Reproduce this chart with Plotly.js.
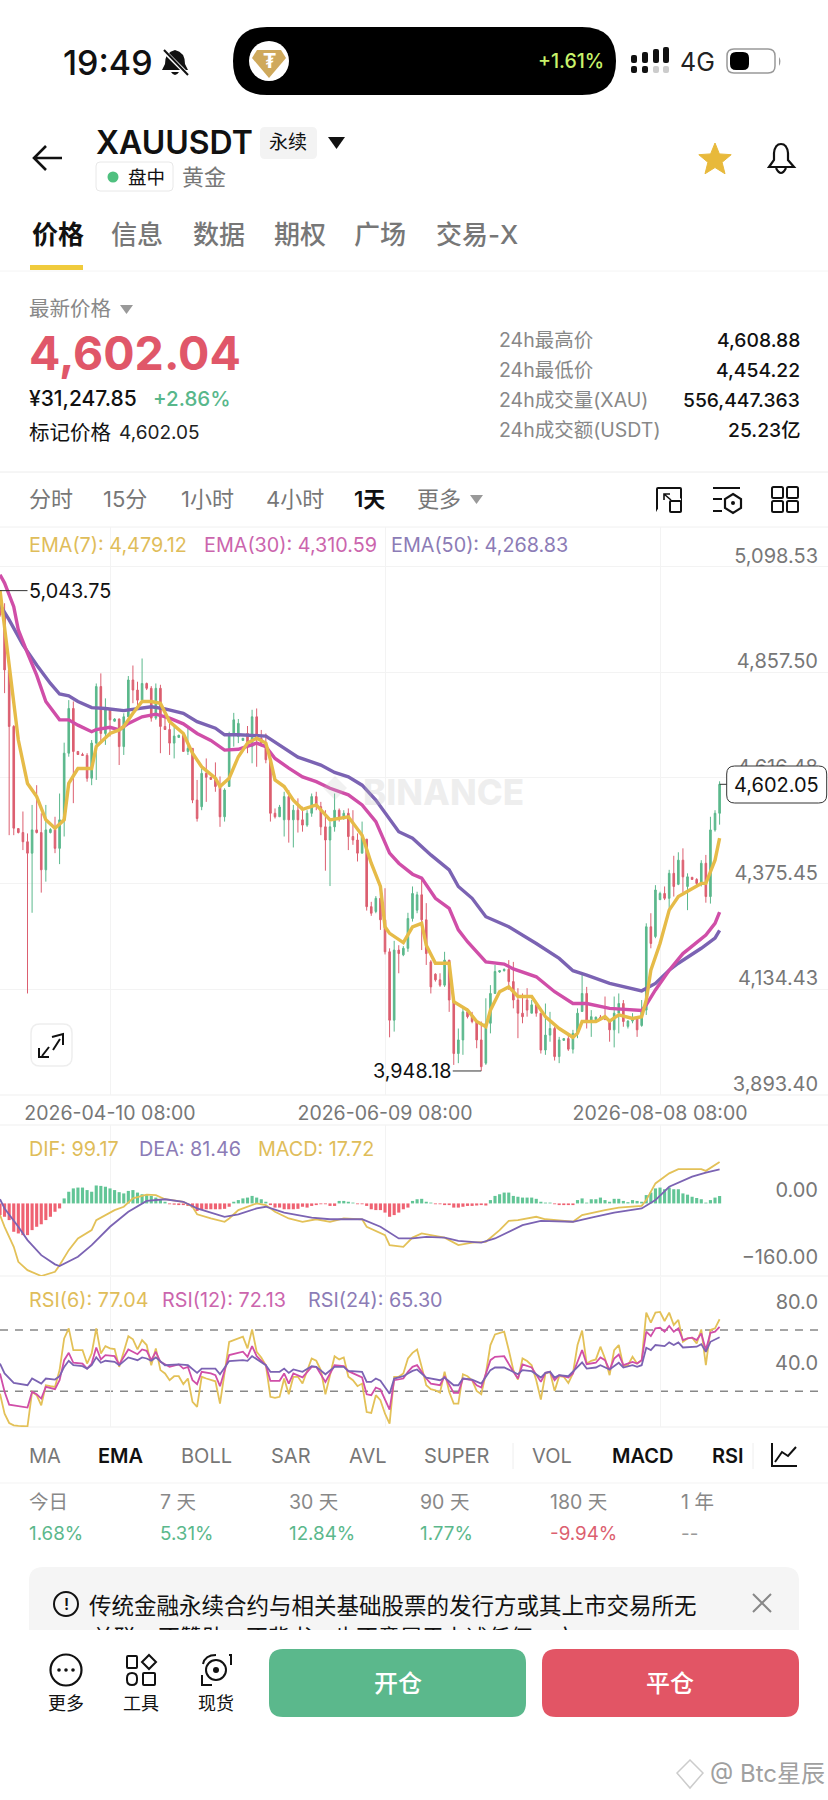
<!DOCTYPE html>
<html><head><meta charset="utf-8">
<script src="https://cdn.plot.ly/plotly-3.0.1.min.js"></script>
<style>html,body{margin:0;padding:0;background:#fff}#chart{position:absolute;left:0;top:0;width:828px;height:1800px}
#clip{position:absolute;left:92px;top:1624px;width:620px;height:6px;overflow:hidden;font:22px 'Noto Sans CJK SC';color:#111;line-height:22px}
#clip span{position:relative;top:0;white-space:nowrap}</style>
</head><body><div id="chart"></div><div id="clip"><span>关联，不赞助，不背书，也不意属于上述任何一方</span></div>
<script>
// day index 0 = 2026-04-10; first visible candle is -24, last 133
const firstDay=-24;
const high=[5043.75,5015,4863,4737,4502,4540,4490,4555,4600,4536,4555,4502,4528,4581,4697,4794,4791,4677,4674,4673,4703,4832,4855,4798,
4772,4753,4752,4764,4849,4873,4836,4889,4834,4826,4832,4829,4772,4749,4737,4715,4715,4730,4684,4612,
4638,4661,4618,4652,4620,4593,4722,4765,4751,4707,4735,4772,4775,4726,4718,4658,4547,4555,4585,4589,
4555,4570,4551,4543,4581,4585,4562,4543,4517,4581,4547,4543,4547,4543,4490,4517,4477,4334,4347,4353,
4365,4228,4245,4235,4233,4309,4369,4357,4384,4331,4201,4171,4171,4220,4201,4114,4045,4095,4091,4083,
4064,4061,4114,4144,4190,4178,4182,4201,4197,4137,4125,4137,4110,4102,4080,4102,4083,4049,4026,4023,
4034,4042,4091,4167,4140,4087,4072,4076,4118,4064,4118,4125,4110,4064,4080,4068,4110,4285,4308,4372,
4357,4369,4407,4439,4447,4456,4399,4390,4388,4429,4441,4528,4543,4608.88];
const low=[4984,4810,4486,4486,4490,4452,4125,4309,4490,4355,4380,4490,4445,4420,4483,4665,4559,4669,4667,4608,4600,4612,4696,4692,
4711,4745,4646,4669,4760,4787,4783,4794,4817,4745,4749,4673,4726,4669,4661,4709,4677,4669,4559,4517,
4543,4562,4613,4585,4505,4517,4597,4688,4696,4702,4673,4650,4642,4688,4650,4517,4524,4528,4483,4469,
4458,4492,4494,4505,4528,4543,4486,4405,4370,4494,4517,4521,4452,4464,4426,4445,4314,4302,4308,4270,
4214,4025,4038,4171,4210,4220,4289,4308,4224,4190,4125,4152,4140,4140,4083,3962,3966,3985,4068,4057,
4000,3948.18,3962,4034,4125,4172,4175,4133,4091,4023,4057,4072,4080,4072,3988,3985,4015,3972,3966,4017,
3994,3988,4023,4083,4045,4026,4064,4064,4064,4015,4002,4034,4049,4045,4057,4026,4049,4076,4228,4251,
4338,4338,4315,4346,4372,4355,4315,4384,4372,4369,4332,4330,4494,4510];
const open=[5038,4988,4863,4734,4501,4492,4471,4445,4498,4492,4407,4492,4499,4456,4521,4673,4775,4677,4670,4668,4616,4696,4825,4718,
4772,4746,4751,4688,4756,4840,4817,4794,4832,4821,4753,4821,4734,4727,4696,4709,4714,4677,4684,4566,
4551,4627,4618,4613,4597,4528,4597,4715,4711,4702,4718,4688,4756,4707,4696,4658,4536,4528,4521,4574,
4521,4543,4521,4509,4536,4574,4551,4505,4475,4505,4543,4524,4536,4483,4475,4445,4477,4323,4312,4342,
4293,4220,4064,4224,4213,4228,4296,4315,4350,4293,4197,4169,4156,4144,4201,4110,3988,4019,4083,4072,
4061,4019,3966,4057,4125,4174,4177,4180,4152,4110,4080,4110,4080,4099,4080,3996,4030,4045,3981,4018,
4022,3998,4034,4084,4125,4064,4065,4071,4072,4064,4042,4080,4102,4050,4062,4067,4052,4087,4277,4255,
4339,4353,4342,4399,4374,4429,4369,4390,4385,4376,4422,4346,4498,4536];
const close=[4988,4863,4734,4502,4492,4471,4445,4498,4492,4407,4498,4499,4456,4521,4673,4775,4677,4670,4668,4616,4696,4825,4718,4772,
4749,4751,4688,4756,4840,4817,4794,4832,4821,4753,4821,4734,4727,4696,4712,4714,4677,4684,4566,4524,
4627,4618,4613,4597,4528,4589,4715,4749,4741,4707,4688,4756,4707,4696,4658,4536,4528,4550,4574,4521,
4543,4521,4509,4536,4574,4551,4505,4475,4505,4543,4524,4536,4483,4475,4445,4483,4323,4308,4342,4293,
4220,4064,4224,4216,4228,4296,4353,4350,4293,4216,4140,4156,4144,4201,4110,3988,4019,4083,4072,4061,
4019,3958,4057,4125,4175,4177,4180,4152,4110,4080,4072,4087,4099,4080,3996,4030,4045,3981,4019,4022,
3998,4034,4080,4125,4064,4072,4071,4066,4066,4042,4080,4102,4061,4062,4068,4042,4087,4277,4239,4361,
4353,4342,4399,4369,4429,4391,4391,4385,4376,4422,4346,4498,4536,4602.05];

const ema7Day=[-24,-22,-20,-18,-16,-14,-12,-10,-9,-7,-4,-3,0,2,3,5,7,9,11,13,16,18,20,23,24,26,28,30,32,34,35,36,38,40,42,45,46,48,52,55,57,59,60,61,64,66,68,69,71,74,75,78,80,82,83,85,87,89,92,93,95,98,101,102,103,106,108,109,111,114,116,117,118,120,122,124,127,129,130,132,133];
const ema7=[5045,4870,4703,4604,4574,4521,4502,4521,4604,4638,4638,4688,4718,4726,4734,4764,4791,4791,4787,4745,4718,4673,4642,4616,4597,4616,4665,4696,4707,4696,4658,4612,4597,4566,4545,4555,4543,4521,4528,4486,4422,4369,4277,4262,4241,4277,4285,4235,4194,4194,4106,4087,4061,4049,4087,4129,4140,4118,4118,4102,4072,4045,4025,4034,4061,4061,4072,4062,4076,4068,4072,4110,4178,4239,4315,4346,4365,4376,4376,4429,4479.12];
const ema30Day=[-24,-23,-21,-20,-18,-16,-14,-11,-9,-7,-4,-3,0,2,4,7,10,13,16,19,22,25,28,30,32,34,36,39,42,45,48,52,55,58,61,63,66,68,71,74,76,78,82,86,88,93,97,101,104,109,116,117,119,122,125,130,132,133];
const ema30=[5080,5061,5007,4954,4901,4851,4791,4749,4749,4737,4722,4727,4732,4726,4741,4756,4762,4753,4740,4718,4702,4680,4682,4689,4696,4688,4661,4639,4619,4608,4593,4578,4555,4517,4445,4422,4397,4388,4342,4319,4270,4243,4197,4192,4181,4163,4129,4102,4102,4091,4086,4099,4133,4178,4216,4258,4285,4310.59];
const ema50Day=[-24,-22,-19,-16,-13,-11,-9,-7,-4,-1,3,6,9,12,16,19,23,25,28,34,37,41,46,49,52,55,58,61,63,66,70,74,76,79,82,87,90,93,98,101,104,109,116,119,122,124,129,132,133];
const ema50=[5011,4977,4920,4874,4832,4808,4804,4791,4777,4775,4770,4775,4779,4774,4764,4745,4730,4715,4715,4712,4692,4664,4646,4629,4619,4600,4566,4524,4494,4479,4441,4407,4369,4342,4300,4277,4258,4239,4205,4177,4167,4148,4131,4148,4178,4194,4228,4251,4268.83];

const macdHist=[-28,-32,-40,-68,-72,-76,-76,-64,-56,-50,-40,-32,-20,-12,12,28,36,38,38,32,28,43,42,40,
36,32,27,24,30,32,26,22,20,18,14,10,4,-2,-3,-4,-4,-6,-10,-18,-16,-14,-14,-14,-14,-13,-8,4,8,12,14,18,14,10,4,-4,-10,-10,-14,-14,-14,-13,-8,-10,-6,-4,-2,-2,-6,-6,6,6,4,2,-2,-2,-6,-14,-16,-16,-22,-32,-28,-22,-14,-10,6,
10,11,4,2,-2,-2,-4,-4,-10,-10,-8,-6,-6,-5,-4,-5,8,18,22,26,26,18,16,14,14,14,11,4,2,2,-2,-4,-4,-4,-4,8,12,2,10,10,14,8,4,11,11,6,3,8,6,4,20,26,36,38,34,38,34,34,24,21,16,13,10,2,8,14,17.72];
const difDay=[-24,-23,-21,-20,-18,-15,-12,-11,-9,-7,-4,-3,1,3,5,8,10,12,16,18,19,22,25,26,28,32,34,36,39,42,45,48,51,55,56,60,61,64,66,68,70,73,76,79,82,85,87,89,93,95,101,103,108,111,116,117,119,122,124,129,130,133];
const dif=[-28,-56,-104,-140,-160,-174,-164,-148,-112,-84,-64,-40,-16,-8,12,21,20,10,4,-8,-26,-36,-44,-36,-16,0,-4,-20,-36,-44,-38,-44,-36,-38,-56,-76,-100,-104,-82,-72,-76,-82,-100,-94,-92,-64,-42,-40,-32,-38,-44,-28,-16,-10,-6,8,48,72,82,82,78,99.17];
const deaDay=[-24,-23,-20,-18,-15,-12,-11,-7,-4,0,4,8,12,16,19,23,25,28,32,34,38,44,48,55,59,63,66,69,73,76,81,84,87,90,94,101,105,110,116,119,122,127,130,133];
const dea=[10,-12,-56,-88,-124,-146,-150,-128,-100,-56,-20,6,10,4,-12,-26,-32,-26,-12,-8,-22,-34,-38,-38,-56,-84,-84,-80,-82,-90,-94,-84,-68,-52,-42,-44,-34,-22,-12,8,40,64,74,81.46];

const rsi6=[28.4,15.3,9.2,7.7,7.3,7.3,7,29.6,27.4,20.8,33.9,33.3,32.8,43.8,64.5,71.1,56.9,56.9,56.9,48.1,54.7,71.1,54.7,59.5,
58,57.5,45.9,55.8,66,63.9,57.3,63.4,60.2,47,58,43.8,41.6,37.2,39.8,39.8,34.6,38.3,23,19.7,
39.4,38.3,37.2,36.5,21.9,43.8,62.3,63.4,64.5,65.6,58,70.4,55.8,52.1,47,26.3,25.6,26.3,38.3,28,
39.4,39.4,35,43.8,51.4,49.9,43.8,28,41.6,52.9,50.8,52.1,39.4,37.2,33.3,35,16.4,15.8,27.4,24.1,
15.3,8.8,39.4,39.4,41.6,51.4,55.1,57.3,45.9,33.9,31.3,30.6,29.1,42.7,29.6,21.9,21.9,41.1,39.8,37.2,
30.2,28,41.6,60.2,67.1,67.8,68.9,56.9,43.8,37.6,51.4,49.7,47,37.2,24.5,41.6,42.7,30.2,39.8,39.4,
35.4,41.6,60.2,69.6,48.1,49.9,50.8,59.1,51.4,40.5,56.9,60.2,46.4,47,52.5,48.1,50.3,81.4,74.8,81.4,
81.8,75.9,81.4,73.3,76.6,62.3,64.5,65,61.2,70.4,47,70,71.1,77.04];
const rsi12Day=[-24,-23,-22,-21,-18,-17,-16,-15,-14,-12,-11,-10,-9,-8,-6,-5,-4,-3,-2,-1,1,2,4,6,7,8,9,10,11,13,15,16,17,18,19,20,22,23,24,26,29,30,31,32,34,35,37,38,39,40,42,44,45,47,49,51,52,55,56,57,58,59,61,62,64,65,66,67,69,70,72,73,75,76,77,79,80,81,83,84,86,88,89,90,92,94,95,96,97,98,100,101,103,104,106,107,108,109,110,111,112,114,115,116,117,118,119,120,121,122,123,124,125,126,127,128,129,130,131,132,133];
const rsi12=[41.6,29.6,21.2,20.8,19.3,29.6,28,25.2,32.8,31.3,37.2,50.3,55.1,48.6,48.1,44.8,48.1,58.6,50.8,53.6,52.9,47.5,57.3,54.2,57.3,56.4,50.3,55.8,49.2,45.9,47.5,44.8,45.9,37.2,34.6,42.7,41.6,40.5,33.3,53.6,55.8,52.5,59.5,52.9,47,36.8,36.8,41.6,35,41.6,39,45.9,45.9,36.1,47,46.4,43.1,39,28,27.4,32.4,31.1,18,37.2,38.3,42.7,45.9,47,38.3,35,33.9,39.8,28.9,28.9,38.3,37.2,33.9,32.4,50.3,52.5,52.9,42.7,38.3,47.5,45.5,36.1,42,42.7,37.2,40.5,39,41.6,56.9,47.7,48.6,52.1,50.3,43.8,51.4,54,47,49.2,48.1,50.3,68.9,66,71.1,71.5,68.9,72.6,68.9,71.1,63.4,64.5,65,63.4,67.8,56.9,68.2,68.9,72.13];
const rsi24Day=[-24,-23,-21,-18,-17,-15,-14,-12,-11,-10,-9,-8,-6,-5,-4,-3,-2,-1,1,2,4,6,7,8,9,10,12,15,17,19,20,23,24,26,29,30,31,32,34,35,37,38,39,40,42,44,45,47,49,51,52,55,56,57,58,59,61,62,64,65,66,67,69,72,73,75,76,77,79,81,83,84,86,89,90,92,94,95,96,97,98,100,101,103,104,106,107,109,111,112,114,115,116,117,118,119,121,122,123,124,125,128,129,130,131,133];
const rsi24=[48.1,41.6,35.4,33.9,38.3,35,38.3,37.6,39.8,45.9,49.9,47,46.4,44.8,47,52.1,48.6,49.9,49.2,47,52.1,50.3,52.1,51.4,49.9,52.1,47,47.5,47,42,44.8,44.8,41.1,49.7,50.3,49.9,52.9,50.8,47,42.7,42.7,44.8,42,44.2,42.7,46.4,45.9,41.1,45.9,45.9,43.3,42.7,36.1,36.1,38.3,36.8,28.4,38.3,39.8,41.6,43.3,44.2,38.9,37.2,38.9,33.9,33.9,38.3,37.6,35,43.8,45.5,45.5,41.1,43.8,43.1,38.9,42,42.7,38.9,40.5,39.8,42.7,48.8,44.8,45.5,47,44.2,48.6,45.5,47,45.9,47,58.4,56.9,60.2,59.5,61.9,60.2,61.9,58.6,59.1,60.8,55.8,62.3,65.3];

const priceTicks=[3893.40,4134.43,4375.45,4616.48,4857.50,5098.53];
const dateTickDays=[0,60,120];
const dateTickLabels=['2026-04-10 08:00','2026-06-09 08:00','2026-08-08 08:00'];

const UP='#5bb88c',DOWN='#dc5f70',YEL='#e6bb48',PNK='#d04ea8',PUR='#7b63b3';
const FONT="Inter, 'Noto Sans CJK SC', sans-serif";
const W=828,H=1800;
const px=x=>x/W, py=y=>1-y/H;
const days=open.map((_,i)=>firstDay+i);

const ann=[],shp=[];
function T(x,y,text,size,color,o={}){const a=o.a||'left';const dx=a==='left'?-1.5:(a==='right'?1.5:0);
  ann.push({xref:'paper',yref:'paper',x:px(x+dx),y:py(y),text,showarrow:false,xanchor:a,yanchor:'middle',
  font:{family:o.f||FONT,size,color,weight:o.w||400},borderpad:0});}
function P(d,fill,line,lw,layer){shp.push({type:'path',xref:'paper',yref:'paper',layer:layer||'above',
  path:d.replace(/(-?[\d.]+)[ ,]+(-?[\d.]+)/g,(m,a,b)=>px(+a)+' '+py(+b)),
  fillcolor:fill||'rgba(0,0,0,0)',line:{color:line||'rgba(0,0,0,0)',width:lw||0}});}
function rrPath(a,b,c,d,r){return `M${a+r} ${b} L${c-r} ${b} Q${c} ${b} ${c} ${b+r} L${c} ${d-r} Q${c} ${d} ${c-r} ${d} L${a+r} ${d} Q${a} ${d} ${a} ${d-r} L${a} ${b+r} Q${a} ${b} ${a+r} ${b} Z`;}
function RR(a,b,c,d,r,fill,line,lw,layer){P(rrPath(a,b,c,d,r),fill,line,lw,layer);}
function C(cx,cy,r,fill,line,lw){shp.push({type:'circle',xref:'paper',yref:'paper',layer:'above',x0:px(cx-r),x1:px(cx+r),y0:py(cy-r),y1:py(cy+r),fillcolor:fill||'rgba(0,0,0,0)',line:{color:line||'rgba(0,0,0,0)',width:lw||0}});}
function HL(y,c,x0=0,x1=W){P(`M${x0} ${y} L${x1} ${y}`,null,c||'#f1f1f1',1,'below');}
function tri(x0,x1,y0,y1,c){P(`M${x0} ${y0} L${x1} ${y0} L${(x0+x1)/2} ${y1} Z`,c);}

// Status bar
T(63,62,'19:49',34,'#111',{w:500});
P('M175 50 Q165 52 165 64 L162 70 L188 70 L185 64 Q185 52 175 50 Z M171 72 Q175 78 179 72 Z','#111');
P('M163 50 L189 76','', '#fff',4);P('M164 50 L188 75','', '#111',2);
RR(233,27,616,95,34,'#000');
C(269,61,20,'#fff');
P('M257 50 L281 50 L286 58 L269 78 L252 58 Z','#cfa95c');
T(269,61,'₮',20,'#fff',{a:'center',w:700});
T(603,61,'+1.61%',19.5,'#c9f36b',{a:'right',w:500});
[[634,55],[645,52],[656,49],[666,47]].forEach((b,i)=>{RR(b[0]-3,b[1],b[0]+3,63,2,'#111');RR(b[0]-3,66,b[0]+3,73,2,i<2?'#111':'#ccc');});
T(680,62,'4G',25,'#222');
RR(727,49,775,73,7,'#fff','#999',1.5);RR(730,52,749,70,6,'#000');P('M779 57 Q782 61 779 66 Z','#999');

// Header
P('M62 158 L34 158 M46 146 L34 158 L46 170',null,'#111',2.6);
T(96,143,'XAUUSDT',32,'#111',{w:600});
RR(260,127,317,159,5,'#f3f3f3');
T(288,143,'永续',19,'#111',{a:'center'});
tri(328,345,137,149,'#111');
RR(96,162,173,191,4,'#fff','#e8e8e8',1);
C(113,177,5.5,'#4fc07f');
T(128,177,'盘中',18.5,'#111');
T(182,177,'黄金',22,'#777');
(function(){const cx=715,cy=160,R=17,r=7.5;let d='';for(let i=0;i<10;i++){const a=-Math.PI/2+i*Math.PI/5,q=i%2?r:R;d+=(i?'L':'M')+(cx+q*Math.cos(a)).toFixed(1)+' '+(cy+q*Math.sin(a)).toFixed(1)+' ';}P(d+'Z','#e8b93b','#e8b93b',1);})();
P('M769 167 L774 160 L774 153 Q775 144 781 144 Q787 144 788 153 L788 160 L794 167 Z M776 168 Q781 178 786 168',null,'#111',2.2);

// Tabs
T(32,235,'价格',26,'#111',{w:700});
[['信息',111],['数据',193],['期权',274],['广场',354],['交易-X',436]].forEach(t=>T(t[1],235,t[0],26,'#777',{w:500}));
P('M30 267.5 L83 267.5',null,'#f0cb3c',5);
HL(271,'#f4f4f4');

// Price block
T(29,308,'最新价格',20.5,'#888');tri(120,133,305,314,'#999');
T(29,353,'4,602.04',46.5,'#e05769',{w:700});
T(29,398,'¥31,247.85',21,'#111',{w:500});
T(153,398,'+2.86%',20.5,'#58b78b',{w:500});
T(29,433,'标记价格',20.5,'#111');
T(119,433,'4,602.05',19,'#222');
[['24h最高价','4,608.88',340],['24h最低价','4,454.22',370],['24h成交量(XAU)','556,447.363',400],['24h成交额(USDT)','25.23亿',430]].forEach(r=>{
  T(499,r[2],r[0],19.5,'#888');T(799,r[2],r[1],19.3,'#111',{a:'right',w:500});});
HL(472,'#ececec');

// Timeframes
[['分时',29],['15分',103],['1小时',181],['4小时',266],['更多',417]].forEach(t=>T(t[1],499,t[0],22,'#777'));
T(354,499,'1天',22,'#111',{w:600});tri(470,483,495,504,'#999');
RR(657,488,681,511,1,null,'#111',2);P('M657 511 L670 511 L670 500 L681 500',null,'#fff',3);RR(670,501,681,512,1,'#fff','#111',2);P('M664 494 L671 500 M664 500 L664 494 L670 494',null,'#111',1.6);
P('M713 488 L740 488 M713 499 L722 499 M713 511 L722 511',null,'#111',2.2);P('M733 494 L741 499 L741 508 L733 513 L725 508 L725 499 Z',null,'#111',2.2);C(733,503,2,'#111');
[[772,487],[787,487],[772,501],[787,501]].forEach(a=>RR(a[0],a[1],a[0]+11,a[1]+11,1.5,null,'#111',2));
HL(527,'#f0f0f0');

// Indicator legends
T(29,545,'EMA(7): 4,479.12',19.8,'#dfbd5a');T(204,545,'EMA(30): 4,310.59',19.8,'#cb65ad');T(391,545,'EMA(50): 4,268.83',19.8,'#8c7cb6');
T(29,1149,'DIF: 99.17',19.8,'#dfbd5a');T(139,1149,'DEA: 81.46',19.8,'#8c7cb6');T(258,1149,'MACD: 17.72',19.8,'#dfbd5a');
T(29,1300,'RSI(6): 77.04',19.8,'#dfbd5a');T(162,1300,'RSI(12): 72.13',19.8,'#cb65ad');T(308,1300,'RSI(24): 65.30',19.8,'#8c7cb6');

// Watermark
P('M335 776 L347 788 L335 800 L323 788 Z','rgba(190,190,190,.22)');
T(363,792,'BINANCE',35,'rgba(190,190,190,.25)',{w:800});

// Expand button
RR(31,1024,72,1066,9,'#fff','#eee',1.5);
P('M53 1050 L60 1039 M52 1037 L63 1034 L63 1045 M49 1047 L42 1056 M39 1048 L39 1057 L49 1057',null,'#111',2);

// Panel separators
[1095,1125,1276,1427].forEach(y=>HL(y,'#efefef'));

// Data labels (extremes) on the price axis
ann.push({xref:'x',yref:'y',x:firstDay,y:5043.75,ax:70,ay:0,text:'5,043.75',showarrow:true,arrowhead:0,arrowwidth:1,arrowcolor:'#333',standoff:0,font:{family:FONT,size:19.8,color:'#111'}});
ann.push({xref:'x',yref:'y',x:81,y:3948.18,ax:-69,ay:0,text:'3,948.18',showarrow:true,arrowhead:0,arrowwidth:1,arrowcolor:'#333',standoff:0,font:{family:FONT,size:19.8,color:'#111'}});
// Last price tag
shp.push({type:'line',xref:'x',yref:'y',x0:133,x1:134.7,y0:4602.05,y1:4602.05,line:{color:'#333',width:1},layer:'above'});
RR(726.7,766,826.7,803,8,'#fff','#333',1);
T(776.7,785,'4,602.05',20,'#111',{a:'center'});

// RSI thresholds
[70,30].forEach(v=>shp.push({type:'line',xref:'paper',yref:'y3',x0:0,x1:821/W,y0:v,y1:v,layer:'below',line:{color:'#888',width:1.6,dash:'8px,7px'}}));

// Indicator tabs
[['MA',29],['BOLL',181],['SAR',271],['AVL',349],['SUPER',424],['VOL',532]].forEach(t=>T(t[1],1456,t[0],20,'#777'));
[['EMA',98],['MACD',612],['RSI',712]].forEach(t=>T(t[1],1456,t[0],20,'#111',{w:600}));
P('M513 1443 L513 1469',null,'#eee',1);P('M753 1443 L753 1469',null,'#eee',1);
P('M772 1443 L772 1466 L797 1466 M775 1462 L782 1452 L788 1456 L796 1447',null,'#111',2);
HL(1483,'#f3f3f3');

// Returns
[['今日','1.68%',29,UP],['7 天','5.31%',160,UP],['30 天','12.84%',289,UP],['90 天','1.77%',420,UP],['180 天','-9.94%',550,'#dc5f70'],['1 年','--',681,'#999']].forEach(r=>{
  T(r[2],1502,r[0],19.5,'#888');T(r[2],1533,r[1],18.8,r[3]);});

// Notice
P('M29 1630 L29 1581 Q29 1567 43 1567 L785 1567 Q799 1567 799 1581 L799 1630 Z','#f5f5f5');
C(66,1604,12,null,'#111',2);T(66,1604,'!',16,'#111',{a:'center',w:600});
T(89,1605,'传统金融永续合约与相关基础股票的发行方或其上市交易所无',22.5,'#111');
P('M753 1594 L771 1612 M771 1594 L753 1612',null,'#888',2);

// Bottom bar
C(66,1670,15.5,null,'#111',2.2);[59,66,73].forEach(x=>C(x,1670,1.8,'#111'));
T(66,1703,'更多',18,'#111',{a:'center'});
RR(127,1656,137,1668,1,null,'#111',2);P('M149 1655 L156 1662 L149 1669 L142 1662 Z',null,'#111',2);RR(127,1673,137,1685,5,null,'#111',2);RR(143,1673,155,1685,1,null,'#111',2);
T(141,1703,'工具',18,'#111',{a:'center'});
C(216,1670,10,null,'#111',2);C(216,1670,3,'#111');P('M203 1664 Q205 1655 216 1655 M229 1655 L231 1655 L231 1665 M202 1675 L202 1685 L212 1685',null,'#111',2);
T(216,1703,'现货',18,'#111',{a:'center'});
RR(269,1649,526,1717,14,'#5bb88c');T(398,1683,'开仓',24,'#fff',{a:'center',w:500});
RR(542,1649,799,1717,14,'#e25565');T(670,1683,'平仓',24,'#fff',{a:'center',w:500});

// Source mark
P('M690 1760 L703 1773 L690 1788 L677 1773 Z',null,'#ccc',1.5);
T(710,1773,'@ Btc星辰',24,'#a0a0a0');

const GRID='#f3f3f3';
const xCommon={range:[firstDay,156.65],tickmode:'array',tickvals:dateTickDays,showgrid:true,gridcolor:GRID,gridwidth:1,zeroline:false,showline:false,ticks:'',fixedrange:true,type:'linear'};
const yCommon={side:'right',ticklabelposition:'inside',ticklabeloverflow:'allow',ticks:'',zeroline:false,showline:false,fixedrange:true,ticklabelstandoff:7,tickfont:{family:FONT,size:20,color:'#777'},tickmode:'array',anchor:'free',position:1};

const line=(xs,ys,color,width,xa,ya)=>({type:'scatter',mode:'lines',x:xs,y:ys,xaxis:xa,yaxis:ya,line:{color,width,shape:'linear'},hoverinfo:'skip',showlegend:false});

const traces=[
 {type:'candlestick',x:days,open,high,low,close,xaxis:'x',yaxis:'y',hoverinfo:'skip',showlegend:false,whiskerwidth:0,
  increasing:{line:{color:UP,width:1},fillcolor:UP},decreasing:{line:{color:DOWN,width:1},fillcolor:DOWN}},
 line(ema50Day,ema50,PUR,3.4,'x','y'),
 line(ema30Day,ema30,PNK,3.4,'x','y'),
 line(ema7Day,ema7,YEL,3.4,'x','y'),
 {type:'bar',x:days,y:macdHist,xaxis:'x2',yaxis:'y2',width:0.68,marker:{color:macdHist.map(v=>v>=0?'#62c596':'#ef6272')},hoverinfo:'skip',showlegend:false},
 line(difDay,dif,'#e3c158',1.8,'x2','y2'),
 line(deaDay,dea,PUR,1.8,'x2','y2'),
 line(days,rsi6,'#e3c158',1.8,'x3','y3'),
 line(rsi12Day,rsi12,PNK,1.8,'x3','y3'),
 line(rsi24Day,rsi24,PUR,1.8,'x3','y3')
];

const layout={width:W,height:H,margin:{l:0,r:0,t:0,b:0},paper_bgcolor:'#fff',plot_bgcolor:'rgba(0,0,0,0)',showlegend:false,dragmode:false,boxgap:0.65,boxgroupgap:0,
 font:{family:FONT},
 xaxis:Object.assign({},xCommon,{domain:[0,1],anchor:'y',ticktext:dateTickLabels,tickfont:{family:FONT,size:19.5,color:'#777'},showticklabels:true,rangeslider:{visible:false},ticklabelstandoff:4}),
 xaxis2:Object.assign({},xCommon,{domain:[0,1],anchor:'y2',showticklabels:false}),
 xaxis3:Object.assign({},xCommon,{domain:[0,1],anchor:'y3',showticklabels:false}),
 yaxis:Object.assign({},yCommon,{domain:[py(1095),py(527)],range:[3893.40,5188.9],tickvals:priceTicks,tickformat:',.2f',showgrid:true,gridcolor:GRID,ticklabelshift:-11}),
 yaxis2:Object.assign({},yCommon,{domain:[py(1276),py(1125)],range:[-174,188],tickvals:[0,-160],tickformat:'.2f',showgrid:false,ticklabelshift:-13}),
 yaxis3:Object.assign({},yCommon,{domain:[py(1427),py(1276.5)],range:[6.6,105],tickvals:[40,80],tickformat:'.1f',showgrid:false,ticklabelshift:-13}),
 shapes:shp,annotations:ann};
Plotly.newPlot('chart',traces,layout,{displayModeBar:false,staticPlot:true,responsive:false});
</script></body></html>
